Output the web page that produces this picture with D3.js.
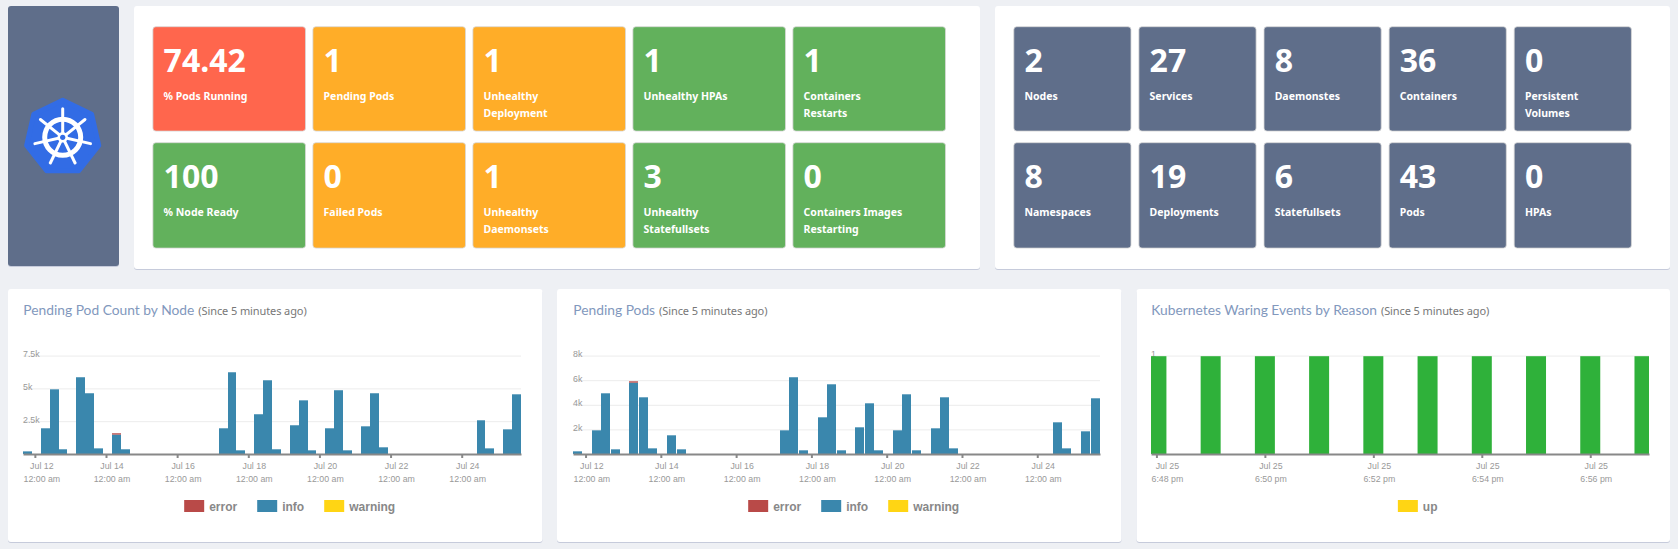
<!DOCTYPE html>
<html>
<head>
<meta charset="utf-8">
<title>Kubernetes</title>
<script src="https://cdn.jsdelivr.net/npm/d3@7"></script>
<style>
  html, body { margin: 0; padding: 0; background: #eef0f4; overflow: hidden; }
  svg { display: block; }
  .tile-value { font-family: "Noto Sans", sans-serif; font-weight: 700; font-size: 32px; fill: #fff; }
  .tile-label { font-family: "Noto Sans", sans-serif; font-weight: 700; font-size: 10.5px; fill: #fff; }
  .title { font-family: Lato, sans-serif; font-size: 13.8px; fill: #8298bd; }
  .subtitle { font-family: "Noto Sans", sans-serif; font-size: 11px; letter-spacing: -0.1px; fill: #777; }
  .axis text { font-family: "Liberation Sans", sans-serif; font-size: 8.8px; fill: #999; }
  .axis--y line { stroke: #ececec; }
  .axis--y .domain { display: none; }
  .axis--x line, .axis--x .domain { stroke: #888; stroke-width: 2; }
  .legend text { font-family: "Liberation Sans", sans-serif; font-weight: 700; font-size: 12px; fill: #888; }
</style>
</head>
<body>
<script>
// tiles on the left card, row by row
var healthValues = ["74.42", "1", "1", "1", "1", "100", "0", "1", "3", "0"];
var healthLabels = [
  ["% Pods Running"], ["Pending Pods"], ["Unhealthy", "Deployment"], ["Unhealthy HPAs"], ["Containers", "Restarts"],
  ["% Node Ready"], ["Failed Pods"], ["Unhealthy", "Daemonsets"], ["Unhealthy", "Statefullsets"], ["Containers Images", "Restarting"]
];
var healthColors = ["#ff664d", "#ffad28", "#ffad28", "#62b15c", "#62b15c", "#62b15c", "#ffad28", "#ffad28", "#62b15c", "#62b15c"];

// tiles on the right card
var countValues = ["2", "27", "8", "36", "0", "8", "19", "6", "43", "0"];
var countLabels = [
  ["Nodes"], ["Services"], ["Daemonstes"], ["Containers"], ["Persistent", "Volumes"],
  ["Namespaces"], ["Deployments"], ["Statefullsets"], ["Pods"], ["HPAs"]
];

// pod charts share the same 6 hour buckets
var podTimes = [
  "07-11 16:00", "07-12 04:00", "07-12 10:00", "07-12 16:00", "07-13 04:00", "07-13 10:00", "07-13 16:00",
  "07-14 04:00", "07-14 10:00", "07-17 04:00", "07-17 10:00", "07-17 16:00", "07-18 04:00", "07-18 10:00",
  "07-18 16:00", "07-19 04:00", "07-19 10:00", "07-19 16:00", "07-20 04:00", "07-20 10:00", "07-20 16:00",
  "07-21 04:00", "07-21 10:00", "07-21 16:00", "07-24 10:00", "07-24 16:00", "07-25 04:00", "07-25 10:00"
];
var podTicks = ["07-12 00:00", "07-14 00:00", "07-16 00:00", "07-18 00:00", "07-20 00:00", "07-22 00:00", "07-24 00:00"];
var podDomain = ["07-11 16:00", "07-25 16:00"];

var nodeInfo = [200, 1960, 4930, 360, 5850, 4630, 430, 1480, 360, 1960, 6230, 280, 3030, 5620, 360, 2190, 4090, 280, 1960, 4860, 280, 2110, 4630, 510, 2570, 430, 1880, 4550];
var nodeError = [0, 0, 0, 0, 0, 0, 0, 100, 0, 0, 0, 0, 0, 0, 0, 0, 0, 0, 0, 0, 0, 0, 0, 0, 0, 0, 0, 0];
var pendingInfo = [217, 1925, 4935, 380, 5800, 4610, 460, 1520, 380, 1925, 6240, 300, 2983, 5668, 300, 2170, 4122, 300, 1925, 4854, 300, 2088, 4610, 460, 2576, 460, 1844, 4529];
var pendingError = [0, 0, 0, 0, 110, 0, 0, 0, 0, 0, 0, 0, 0, 0, 0, 0, 0, 0, 0, 0, 0, 0, 0, 0, 0, 0, 0, 0];

// events chart, one bar a minute
var eventTimes = ["07-25 18:48", "07-25 18:49", "07-25 18:50", "07-25 18:51", "07-25 18:52", "07-25 18:53", "07-25 18:54", "07-25 18:55", "07-25 18:56", "07-25 18:57"];
var eventValues = [1, 1, 1, 1, 1, 1, 1, 1, 1, 1];
var eventTicks = ["07-25 18:48", "07-25 18:50", "07-25 18:52", "07-25 18:54", "07-25 18:56"];

var nodeYTicks = [2500, 5000, 7500];
var pendingYTicks = [2000, 4000, 6000, 8000];
var eventYTicks = [1];

var colors = { error: "#b94a48", info: "#3a87ad", warning: "#ffd514", up: "#ffd514", event: "#2fb13a" };

var parseTime = d3.timeParse("%Y-%m-%d %H:%M");
var parseSec = d3.timeParse("%Y-%m-%d %H:%M:%S");
function t(s) { return parseTime("2019-" + s); }

var svg = d3.select("body").append("svg")
  .attr("width", 1678)
  .attr("height", 549);

var defs = svg.append("defs");

function card(x, y, w, h, fill) {
  svg.append("rect").attr("x", x).attr("y", y + 1).attr("width", w).attr("height", h)
    .attr("rx", 3).attr("fill", "#c6cbdb");
  svg.append("rect").attr("x", x).attr("y", y).attr("width", w).attr("height", h)
    .attr("rx", 3).attr("fill", fill);
}

// tile grid, 5 by 2
function tiles(left, pitch, width, values, labels, fillFn) {
  var tileTop = [26.7, 142.7];
  var g = svg.append("g").selectAll("g")
    .data(values)
    .enter().append("g")
    .attr("transform", function(d, i) {
      return "translate(" + (left + (i % 5) * pitch) + "," + tileTop[Math.floor(i / 5)] + ")";
    });

  g.append("rect")
    .attr("width", width)
    .attr("height", function(d, i) { return i < 5 ? 104.4 : 105.4; })
    .attr("rx", 3)
    .attr("fill", fillFn)
    .attr("stroke", "#d8d8d8")
    .attr("stroke-width", 0.8);

  g.append("text")
    .attr("class", "tile-value")
    .attr("x", 10.7)
    .attr("y", 45.8)
    .text(function(d) { return d; });

  g.each(function(d, i) {
    var self = d3.select(this);
    labels[i].forEach(function(line, j) {
      self.append("text")
        .attr("class", "tile-label")
        .attr("x", 10.7)
        .attr("y", 73.3 + j * 17)
        .text(line);
    });
  });
}

card(8, 6, 111, 260, "#5f6e8a");
card(134, 6, 846, 263, "#fff");
card(995, 6, 675, 263, "#fff");
card(8, 289, 534.5, 253, "#fff");
card(557, 289, 564.5, 253, "#fff");
card(1136.5, 289, 533.5, 253, "#fff");

tiles(152.9, 160, 152.6, healthValues, healthLabels, function(d, i) { return healthColors[i]; });
tiles(1013.8, 125.1, 117.2, countValues, countLabels, function() { return "#5f6e8a"; });

// kubernetes logo
var logo = svg.append("g").attr("transform", "translate(62.7,137.3)");
var hept = d3.lineRadial()
  .angle(function(d) { return d * 2 * Math.PI / 7; })
  .radius(37)
  .curve(d3.curveLinearClosed);
logo.append("path")
  .attr("d", hept(d3.range(7)))
  .attr("fill", "#326ce5")
  .attr("stroke", "#326ce5")
  .attr("stroke-width", 5)
  .attr("stroke-linejoin", "round");
logo.append("circle").attr("r", 18).attr("fill", "none").attr("stroke", "#fff").attr("stroke-width", 5);
logo.selectAll("line")
  .data(d3.range(7))
  .enter().append("line")
  .attr("x2", function(d) { return 28.5 * Math.sin(d * 2 * Math.PI / 7); })
  .attr("y2", function(d) { return -28.5 * Math.cos(d * 2 * Math.PI / 7); })
  .attr("stroke", "#fff")
  .attr("stroke-width", 3)
  .attr("stroke-linecap", "round");
logo.append("circle").attr("r", 5.2).attr("fill", "#fff");
logo.append("circle").attr("r", 2.6).attr("fill", "#326ce5");

// one bar chart panel
function panel(o) {
  var height = 98.4, baseY = 454;

  var title = svg.append("text").attr("x", o.left + 0.3).attr("y", 315);
  title.append("tspan").attr("class", "title").text(o.title);
  title.append("tspan").attr("class", "subtitle").attr("dx", 4).text("(Since 5 minutes ago)");

  var xScale = d3.scaleTime().domain(o.domain).range([0, o.width]);
  var yScale = d3.scaleLinear().domain([0, o.yTicks[o.yTicks.length - 1]]).range([height, 0]);

  var g = svg.append("g").attr("transform", "translate(" + o.left + "," + (baseY - height) + ")");

  // grid and y labels
  var yAxis = g.append("g")
    .attr("class", "axis axis--y")
    .call(d3.axisLeft(yScale).tickValues(o.yTicks).tickSize(-o.width).tickFormat(d3.format("~s")));
  yAxis.selectAll(".tick text")
    .attr("x", 0)
    .attr("dy", 0)
    .attr("y", 1)
    .attr("text-anchor", "start");

  var clipId = "clip" + Math.round(o.left);
  defs.append("clipPath").attr("id", clipId).append("rect")
    .attr("width", o.width).attr("height", height);

  var bars = g.append("g").attr("clip-path", "url(#" + clipId + ")");
  o.draw(bars, xScale, yScale, height);

  // time axis with the date over the clock
  var fmtDay = d3.timeFormat("%b %-d");
  var fmtClock = function(d) { return d3.timeFormat("%-I:%M %p")(d).toLowerCase(); };
  var xAxis = g.append("g")
    .attr("class", "axis axis--x")
    .attr("transform", "translate(0," + height + ")")
    .call(d3.axisBottom(xScale).tickValues(o.ticks).tickSize(4).tickSizeOuter(0).tickFormat(""));

  xAxis.selectAll(".tick text").each(function(d) {
    var text = d3.select(this).attr("y", 0).attr("dy", 0).attr("text-anchor", "middle");
    text.append("tspan").attr("class", "day").attr("y", 15).text(fmtDay(d));
    text.append("tspan").attr("class", "clock").attr("y", 28).text(fmtClock(d));
    var half = text.select(".clock").node().getComputedTextLength() / 2;
    var dx = Math.max(5.5, half - xScale(d));
    text.selectAll("tspan").attr("x", dx);
  });

  // legend, centred a bit right of the card
  var legend = svg.append("g").attr("class", "legend");
  var cursor = 0;
  o.legend.forEach(function(name) {
    var item = legend.append("g").attr("transform", "translate(" + cursor + ",0)");
    item.append("rect").attr("y", 500).attr("width", 20).attr("height", 12).attr("fill", colors[name]);
    var label = item.append("text").attr("x", 25).attr("y", 511).text(name);
    cursor += 25 + label.node().getComputedTextLength() + 20;
  });
  legend.attr("transform", "translate(" + (o.center + 14.5 - (cursor - 20) / 2) + ",0)");
}

function podBars(times, info, error) {
  var rows = times.map(function(s, i) { return { time: t(s), info: info[i], error: error[i] }; });
  var stack = d3.stack().keys(["info", "error"])(rows);
  return function(bars, xScale, yScale) {
    bars.selectAll("g")
      .data(stack)
      .enter().append("g")
      .attr("fill", function(d) { return colors[d.key]; })
      .selectAll("rect")
      .data(function(d) { return d; })
      .enter().append("rect")
      .attr("x", function(d) { return Math.round(xScale(d.data.time)); })
      .attr("y", function(d) { return yScale(d[1]); })
      .attr("width", function(d) {
        var next = d3.timeHour.offset(d.data.time, 6);
        return Math.min(9, Math.round(xScale(next)) - Math.round(xScale(d.data.time)));
      })
      .attr("height", function(d) { return yScale(d[0]) - yScale(d[1]); });
  };
}

panel({
  title: "Pending Pod Count by Node",
  left: 23, width: 498, center: 275.2,
  domain: podDomain.map(t), ticks: podTicks.map(t), yTicks: nodeYTicks,
  legend: ["error", "info", "warning"],
  draw: podBars(podTimes, nodeInfo, nodeError)
});

panel({
  title: "Pending Pods",
  left: 573, width: 527, center: 839.2,
  domain: podDomain.map(t), ticks: podTicks.map(t), yTicks: pendingYTicks,
  legend: ["error", "info", "warning"],
  draw: podBars(podTimes, pendingInfo, pendingError)
});

panel({
  title: "Kubernetes Waring Events by Reason",
  left: 1151, width: 498, center: 1403.2,
  domain: [parseSec("2019-07-25 18:47:54"), parseSec("2019-07-25 18:57:05")],
  ticks: eventTicks.map(t), yTicks: eventYTicks,
  legend: ["up"],
  draw: function(bars, xScale, yScale) {
    bars.selectAll("rect")
      .data(eventValues)
      .enter().append("rect")
      .attr("x", function(d, i) { return xScale(t(eventTimes[i])) - 10; })
      .attr("y", function(d) { return yScale(d) + 0.6; })
      .attr("width", 20)
      .attr("height", function(d) { return yScale(0) - yScale(d) - 0.6; })
      .attr("fill", colors.event);
  }
});
</script>
</body>
</html>
